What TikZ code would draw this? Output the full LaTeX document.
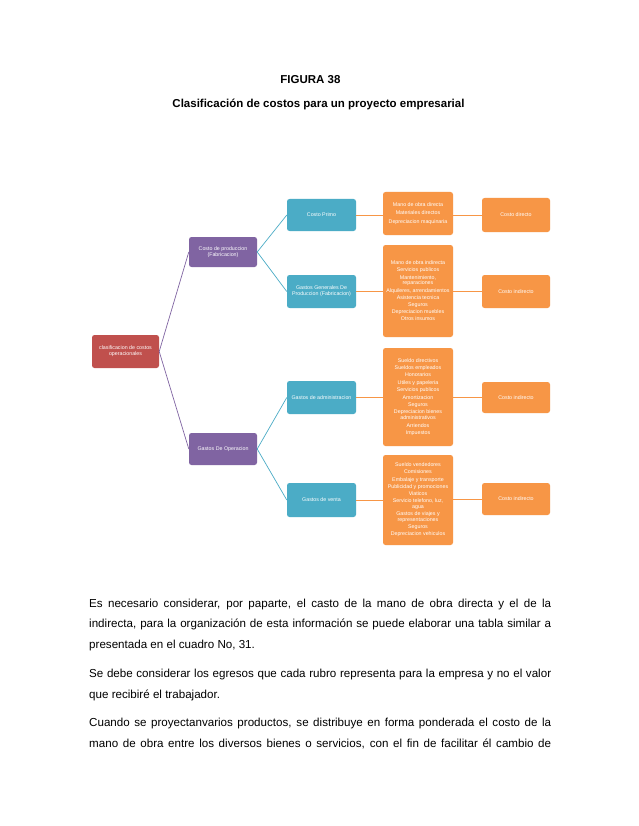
\documentclass[tikz,border=0pt]{standalone}
\usepackage{fontspec}
\setmainfont{Liberation Sans}
\definecolor{cred}{HTML}{C0504D}
\definecolor{cpurple}{HTML}{8064A2}
\definecolor{cteal}{HTML}{4BACC6}
\definecolor{corange}{HTML}{F79646}
\newcommand{\dgfont}{\fontsize{5.3}{5.8}\selectfont}
\newcommand{\bdfont}{\fontsize{11.6}{14}\selectfont}
\newcommand{\ttlfont}{\fontsize{11.5}{14}\selectfont\bfseries}
\begin{document}
\begin{tikzpicture}[x=1pt,y=-1pt,
  dbox/.style={rounded corners=2.5pt, text=white, font=\dgfont, align=center, inner sep=1pt},
  redbox/.style={dbox, fill=cred},
  purbox/.style={dbox, fill=cpurple},
  tealbox/.style={dbox, fill=cteal},
  orbox/.style={dbox, fill=corange},
  lnpur/.style={draw=cpurple, line width=0.7pt},
  lnteal/.style={draw=cteal, line width=0.7pt},
  lnor/.style={draw=corange, line width=0.7pt},
  bodyline/.style={anchor=base west, inner sep=0pt, font=\bdfont},
  ttl/.style={anchor=base, inner sep=0pt, font=\ttlfont}]
\fill[white] (0,0) rectangle (638,826);
\path[use as bounding box] (0,0) rectangle (638,826);

% titles
\node[ttl] (t1) at (310.5,84) {FIGURA 38};
\node[ttl] (t2) at (318.5,108) {Clasificación de costos para un proyecto empresarial};

% level 0
\node[redbox, minimum width=67pt, minimum height=33pt] (r) at (125.5,351.5) {clasificacion de costos\\operacionales};
% level 1
\node[purbox, minimum width=68pt, minimum height=30pt] (p1) at (223,252) {Costo de produccion\\(Fabricacion)};
\node[purbox, minimum width=68pt, minimum height=32pt] (p2) at (223,449) {Gastos De Operacion};
% level 2
\node[tealbox, minimum width=69pt, minimum height=32pt] (c1) at (321.5,215) {Costo Primo};
\node[tealbox, minimum width=69pt, minimum height=33pt] (c2) at (321.5,291.5) {Gastos Generales De\\Produccion (Fabricacion)};
\node[tealbox, minimum width=69pt, minimum height=33pt] (c3) at (321.5,397.5) {Gastos de administracion};
\node[tealbox, minimum width=69pt, minimum height=34pt] (c4) at (321.5,500) {Gastos de venta};
% level 3
\node[orbox, minimum width=70pt, minimum height=43pt] (o1) at (418,213.5) {Mano de obra directa\\[3pt]Materiales directos\\[3pt]Depreciacion maquinaria};
\node[orbox, minimum width=70pt, minimum height=92pt] (o2) at (418,291) {Mano de obra indirecta\\[1.4pt]Servicios publicos\\[1.4pt]Mantenimiento,\\reparaciones\\[1.4pt]Alquileres, arrendamientos\\[1.4pt]Asistencia tecnica\\[1.4pt]Seguros\\[1.4pt]Depreciacion muebles\\[1.4pt]Otros insumos};
\node[orbox, minimum width=70pt, minimum height=98pt] (o3) at (418,397) {Sueldo directivos\\[1.6pt]Sueldos empleados\\[1.6pt]Honorarios\\[1.6pt]Utiles y papeleria\\[1.6pt]Servicios publicos\\[1.6pt]Amortizacion\\[1.6pt]Seguros\\[1.6pt]Depreciacion bienes\\administrativos\\[1.6pt]Arriendos\\[1.6pt]Impuestos};
\node[orbox, minimum width=70pt, minimum height=90pt] (o4) at (418,500) {Sueldo vendedores\\[1.4pt]Comisiones\\[1.4pt]Embalaje y transporte\\[1.4pt]Publicidad y promociones\\[1.4pt]Viaticos\\[1.4pt]Servicio telefono, luz,\\agua\\[1.4pt]Gastos de viajes y\\representaciones\\[1.4pt]Seguros\\[1.4pt]Depreciacion vehiculos};
% level 4
\node[orbox, minimum width=68pt, minimum height=34pt] (k1) at (516,215) {Costo directo};
\node[orbox, minimum width=68pt, minimum height=33pt] (k2) at (516,291.5) {Costo indirecto};
\node[orbox, minimum width=68pt, minimum height=31pt] (k3) at (516,397.5) {Costo indirecto};
\node[orbox, minimum width=68pt, minimum height=32pt] (k4) at (516,499) {Costo indirecto};

% connectors
\draw[lnpur] (r.east) -- (p1.west);
\draw[lnpur] (r.east) -- (p2.west);
\draw[lnteal] (p1.east) -- (c1.west);
\draw[lnteal] (p1.east) -- (c2.west);
\draw[lnteal] (p2.east) -- (c3.west);
\draw[lnteal] (p2.east) -- (c4.west);
\draw[lnor] (c1.east) -- (o1.west |- c1.east);
\draw[lnor] (c2.east) -- (o2.west |- c2.east);
\draw[lnor] (c3.east) -- (o3.west |- c3.east);
\draw[lnor] (c4.east) -- (o4.west |- c4.east);
\draw[lnor] (o1.east |- k1.west) -- (k1.west);
\draw[lnor] (o2.east |- k2.west) -- (k2.west);
\draw[lnor] (o3.east |- k3.west) -- (k3.west);
\draw[lnor] (o4.east |- k4.west) -- (k4.west);

% body text
\node[bodyline] (b1) at (89,607) {\hbox to 462pt{Es necesario considerar, por paparte, el casto de la mano de obra directa y el de la}};
\node[bodyline] (b2) at (89,627.5) {\hbox to 462pt{indirecta, para la organización de esta información se puede elaborar una tabla similar a}};
\node[bodyline] (b3) at (89,648) {presentada en el cuadro No, 31.};
\node[bodyline] (b4) at (89,677) {\hbox to 462pt{Se debe considerar los egresos que cada rubro representa para la empresa y no el valor}};
\node[bodyline] (b5) at (89,698) {que recibiré el trabajador.};
\node[bodyline] (b6) at (89,726.5) {\hbox to 462pt{Cuando se proyectanvarios productos, se distribuye en forma ponderada el costo de la}};
\node[bodyline] (b7) at (89,747) {\hbox to 462pt{mano de obra entre los diversos bienes o servicios, con el fin de facilitar él cambio de}};
\end{tikzpicture}
\end{document}
